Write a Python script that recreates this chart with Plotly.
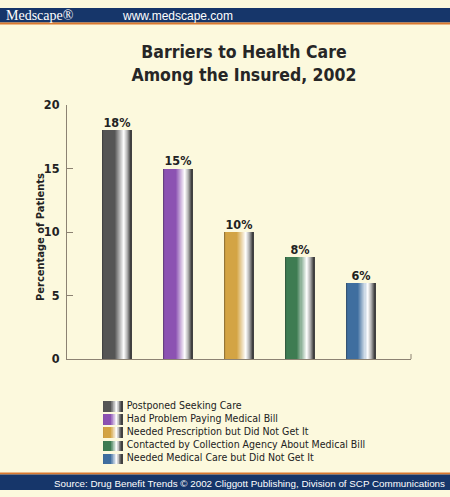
import plotly.graph_objects as go

# chart data
categories = [
    "Postponed Seeking Care",
    "Had Problem Paying Medical Bill",
    "Needed Prescription but Did Not Get It",
    "Contacted by Collection Agency About Medical Bill",
    "Needed Medical Care but Did Not Get It",
]
values = [18, 15, 10, 8, 6]
value_labels = ["18%", "15%", "10%", "8%", "6%"]
y_ticks = [0, 5, 10, 15, 20]

title_text = "Barriers to Health Care<br>Among the Insured, 2002"
y_title = "Percentage of Patients"
source_text = "Source: Drug Benefit Trends \u00a9 2002 Cliggott Publishing, Division of SCP Communications"

base_colors = ["#555555", "#8c52b2", "#d3a444", "#3e7c52", "#3f6e9f"]

W, H = 450, 497
BG = "#fcf9dd"
NAVY = "#16366a"
ORANGE = "#d9782e"
AXIS = "#8c8272"
NARROW = "DejaVu Sans Condensed, Liberation Sans Narrow, sans-serif"
N_STRIPS = 28
BAR_W = 0.46


def px_x(p):
    return p / W


def px_y(p):
    return 1 - p / H


def hex_rgb(c):
    c = c.lstrip("#")
    return [int(c[i:i + 2], 16) for i in (0, 2, 4)]


def mix(c1, c2, t):
    a, b = hex_rgb(c1), hex_rgb(c2)
    return "#%02x%02x%02x" % tuple(round(a[i] + (b[i] - a[i]) * t) for i in range(3))


# цилиндрический градиент: цвет -> белый блик -> тёмный край
def shade(base, t):
    stops = [(0.0, mix(base, "#202020", 0.5)), (0.06, base), (0.42, base),
             (0.74, "#ffffff"), (0.86, "#b4b4b4"), (1.0, "#303030")]
    for (t0, c0), (t1, c1) in zip(stops, stops[1:]):
        if t0 <= t <= t1:
            return mix(c0, c1, (t - t0) / (t1 - t0))
    return "#303030"


fig = go.Figure()

# bars as thin vertical strips
for k in range(N_STRIPS):
    t = (k + 0.5) / N_STRIPS
    fig.add_trace(go.Bar(
        x=categories, y=values,
        width=BAR_W / N_STRIPS * 1.3,
        offset=-BAR_W / 2 + k * BAR_W / N_STRIPS,
        marker=dict(color=[shade(c, t) for c in base_colors], line=dict(width=0)),
        showlegend=False, hoverinfo="skip",
    ))

# value labels
fig.add_trace(go.Scatter(
    x=categories, y=values, mode="text", text=value_labels,
    textposition="top center", cliponaxis=False,
    textfont=dict(family=NARROW, size=12.5, color="#222222", weight="bold"),
    showlegend=False, hoverinfo="skip",
))

# legend swatches (horizontal strips on second axes)
for k in range(N_STRIPS):
    t = (k + 0.5) / N_STRIPS
    fig.add_trace(go.Bar(
        y=categories, x=[1 / N_STRIPS * 1.3] * len(categories),
        base=[k / N_STRIPS] * len(categories), orientation="h", width=0.8,
        marker=dict(color=[shade(c, t) for c in base_colors], line=dict(width=0)),
        xaxis="x2", yaxis="y2", showlegend=False, hoverinfo="skip",
    ))

fig.add_trace(go.Scatter(
    x=[1.25] * len(categories), y=categories, mode="text", text=categories,
    textposition="middle right", cliponaxis=False,
    textfont=dict(family=NARROW, size=10.5, color="#222222"),
    xaxis="x2", yaxis="y2", showlegend=False, hoverinfo="skip",
))

fig.update_layout(
    width=W, height=H,
    margin=dict(l=0, r=0, t=0, b=0),
    paper_bgcolor=BG, plot_bgcolor="rgba(0,0,0,0)",
    barmode="overlay", bargap=0,
    showlegend=False,
    title=dict(text=title_text, x=244 / W, xanchor="center",
               y=px_y(58), yanchor="middle", yref="container",
               font=dict(family=NARROW, size=17.5, color="#262626", weight="bold")),
    xaxis=dict(domain=[px_x(67), px_x(411)], range=[-0.82, 4.82],
               showline=True, linecolor=AXIS, linewidth=1, ticks="",
               showticklabels=False, showgrid=False, zeroline=False, fixedrange=True),
    yaxis=dict(domain=[px_y(362), px_y(100)], range=[0, 20], tickvals=y_ticks,
               showline=True, linecolor=AXIS, linewidth=1, ticks="inside",
               ticklen=6, tickcolor=AXIS, ticklabelstandoff=4,
               tickfont=dict(family=NARROW, size=12.5, color="#222222", weight="bold"),
               showgrid=False, zeroline=False, fixedrange=True),
    # swatch spans 0..1 (103-122 px), text sits at 1.25
    xaxis2=dict(domain=[px_x(103), px_x(103 + 19 * 1.3)], range=[0, 1.3], anchor="y2",
                visible=False, fixedrange=True),
    yaxis2=dict(domain=[px_y(471.5), px_y(404)], range=[4.5, -0.5], anchor="x2",
                visible=False, fixedrange=True),
    shapes=[
        dict(type="rect", xref="paper", yref="paper", x0=0, x1=1,
             y0=px_y(15), y1=1, fillcolor=NAVY, line=dict(width=0), layer="below"),
        dict(type="rect", xref="paper", yref="paper", x0=0, x1=1,
             y0=px_y(17), y1=px_y(15), fillcolor=ORANGE, line=dict(width=0), layer="below"),
        dict(type="rect", xref="paper", yref="paper", x0=0, x1=1,
             y0=px_y(481), y1=px_y(479), fillcolor=ORANGE, line=dict(width=0), layer="below"),
        dict(type="rect", xref="paper", yref="paper", x0=0, x1=1,
             y0=0, y1=px_y(481), fillcolor=NAVY, line=dict(width=0), layer="below"),
        dict(type="line", xref="x domain", yref="y", x0=1, x1=1, y0=0, y1=0.4,
             line=dict(color=AXIS, width=1)),
    ],
    annotations=[
        dict(text="Medscape\u00ae", x=px_x(4), y=px_y(8), xref="paper", yref="paper",
             xanchor="left", yanchor="middle", showarrow=False,
             font=dict(family="Liberation Serif, Times New Roman, serif", size=14, color="white")),
        dict(text="www.medscape.com", x=px_x(120), y=px_y(8), xref="paper", yref="paper",
             xanchor="left", yanchor="middle", showarrow=False,
             font=dict(family="Liberation Sans, Arial, sans-serif", size=12, color="white")),
        dict(text=y_title, x=px_x(41), y=px_y(236), xref="paper", yref="paper",
             xanchor="center", yanchor="middle", textangle=-90, showarrow=False,
             font=dict(family=NARROW, size=11, color="#222222", weight="bold")),
        dict(text=source_text, x=px_x(447), y=px_y(490), xref="paper", yref="paper",
             xanchor="right", yanchor="middle", showarrow=False,
             font=dict(family="Liberation Sans, Arial, sans-serif", size=9.8, color="white")),
    ],
)

page_css = ("var s=document.createElement('style');"
            "s.textContent='html,body{margin:0!important;padding:0!important;overflow:hidden;background:%s}';"
            "document.head.appendChild(s);" % BG)

fig.write_html("out.html", config={"displayModeBar": False}, post_script=page_css)
